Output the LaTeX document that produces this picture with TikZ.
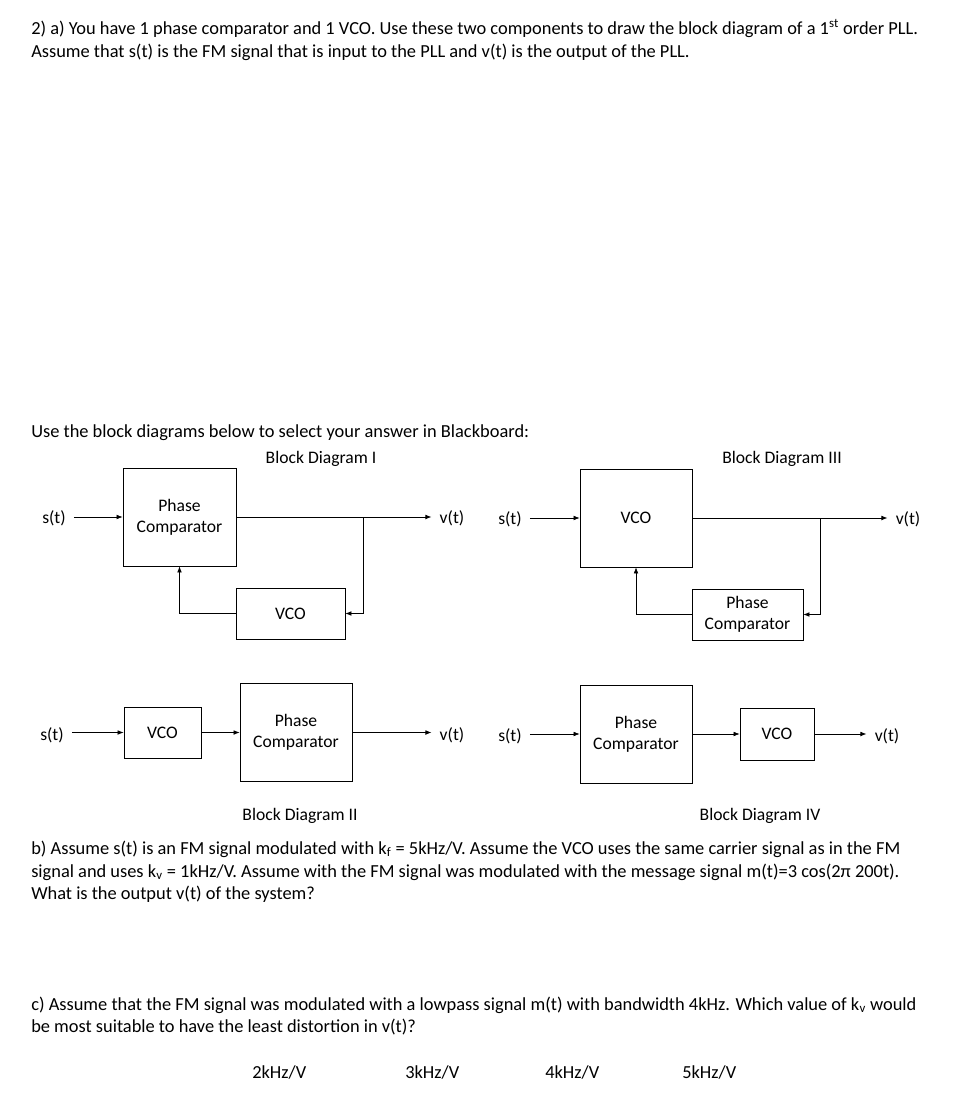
\documentclass[tikz,border=0pt]{standalone}
\usepackage{fontspec}
\setmainfont{Carlito}
\usetikzlibrary{arrows.meta}

\begin{document}
\begin{tikzpicture}[x=0.75pt, y=-0.75pt,
    txt/.style={anchor=base west, inner sep=0pt, font=\fontsize{13.8}{17.25}\selectfont},
    lbl/.style={font=\fontsize{13.2}{15.75}\selectfont, inner xsep=6pt, inner ysep=2pt},
    blk/.style={draw, line width=0.6pt, align=center, inner sep=0pt, font=\fontsize{13.2}{15.75}\selectfont},
    sig/.style={line width=0.5pt, -{Latex[length=4.5pt, width=3.5pt]}}]
      \def\px{0.75pt}
      \useasboundingbox (0,0) rectangle (957,1110);
      % -------------------------------------------- question a
      \node[txt] at (31, 34) (qa_0) {2) a) You have 1 phase comparator and 1 VCO. Use these two components to draw the block diagram of a 1\textsuperscript{st} order PLL.};
      \node[txt] at (31, 57) (qa_1) {Assume that s(t) is the FM signal that is input to the PLL and v(t) is the output of the PLL.};
      \node[txt] at (31, 437) (qa_2) {Use the block diagrams below to select your answer in Blackboard:};
      % -------------------------------------------- Block Diagram I
      \node[lbl] at (321, 459) (t_1) {Block Diagram I};
      \node[lbl] at (54, 518) (s_1) {s(t)};
      \node[blk, minimum width=113*\px, minimum height=98*\px] at (179.5, 517) (pc_1) {Phase\\Comparator};
      \node[blk, minimum width=109*\px, minimum height=51*\px] at (290.5, 613.5) (vco_1) {VCO};
      \node[lbl] at (452, 518) (v_1) {v(t)};
      \coordinate (br_1) at (363, 517);
      \draw[sig] (s_1.east |- pc_1) -- (pc_1.west);
      \draw[sig] (pc_1.east) -- (v_1.west |- pc_1);
      \draw[sig] (br_1) |- (vco_1.east);
      \draw[sig] (vco_1.west) -| (pc_1.south);
      % -------------------------------------------- Block Diagram III
      \node[lbl] at (782, 459) (t_3) {Block Diagram III};
      \node[lbl] at (510, 519) (s_3) {s(t)};
      \node[blk, minimum width=112*\px, minimum height=98*\px] at (636, 518) (vco_3) {VCO};
      \node[blk, minimum width=111*\px, minimum height=51*\px] at (747.5, 614.5) (pc_3) {Phase\\Comparator};
      \node[lbl] at (908, 519) (v_3) {v(t)};
      \coordinate (br_3) at (820, 518);
      \draw[sig] (s_3.east |- vco_3) -- (vco_3.west);
      \draw[sig] (vco_3.east) -- (v_3.west |- vco_3);
      \draw[sig] (br_3) |- (pc_3.east);
      \draw[sig] (pc_3.west) -| (vco_3.south);
      % -------------------------------------------- Block Diagram II
      \node[lbl] at (52, 735) (s_2) {s(t)};
      \node[blk, minimum width=77*\px, minimum height=51*\px] at (162.5, 732.5) (vco_2) {VCO};
      \node[blk, minimum width=112*\px, minimum height=98*\px] at (296, 732.5) (pc_2) {Phase\\Comparator};
      \node[lbl] at (452, 735) (v_2) {v(t)};
      \node[lbl] at (300, 816) (t_2) {Block Diagram II};
      \draw[sig] (s_2.east |- vco_2) -- (vco_2.west);
      \draw[sig] (vco_2.east) -- (pc_2.west);
      \draw[sig] (pc_2.east) -- (v_2.west |- pc_2);
      % -------------------------------------------- Block Diagram IV
      \node[lbl] at (510, 736) (s_4) {s(t)};
      \node[blk, minimum width=112*\px, minimum height=98*\px] at (636, 734) (pc_4) {Phase\\Comparator};
      \node[blk, minimum width=74*\px, minimum height=52*\px] at (777, 734) (vco_4) {VCO};
      \node[lbl] at (887, 736) (v_4) {v(t)};
      \node[lbl] at (760, 816) (t_4) {Block Diagram IV};
      \draw[sig] (s_4.east |- pc_4) -- (pc_4.west);
      \draw[sig] (pc_4.east) -- (vco_4.west);
      \draw[sig] (vco_4.east) -- (v_4.west |- vco_4);
      % -------------------------------------------- question b
      \node[txt] at (31, 854) (qb_0) {b) Assume s(t) is an FM signal modulated with k\textsubscript{f} = 5kHz/V. Assume the VCO uses the same carrier signal as in the FM};
      \node[txt] at (31, 877) (qb_1) {signal and uses k\textsubscript{v} = 1kHz/V. Assume with the FM signal was modulated with the message signal m(t)=3 cos(2π 200t).};
      \node[txt] at (31, 899) (qb_2) {What is the output v(t) of the system?};
      % -------------------------------------------- question c
      \node[txt] at (31, 1010) (qc_0) {c) Assume that the FM signal was modulated with a lowpass signal m(t) with bandwidth 4kHz. Which value of k\textsubscript{v} would};
      \node[txt] at (31, 1032) (qc_1) {be most suitable to have the least distortion in v(t)?};
      % -------------------------------------------- answers
      \node[txt] at (252, 1078) (ans_2) {2kHz/V};
      \node[txt] at (405, 1078) (ans_3) {3kHz/V};
      \node[txt] at (545, 1078) (ans_4) {4kHz/V};
      \node[txt] at (682, 1078) (ans_5) {5kHz/V};
\end{tikzpicture}
\end{document}
